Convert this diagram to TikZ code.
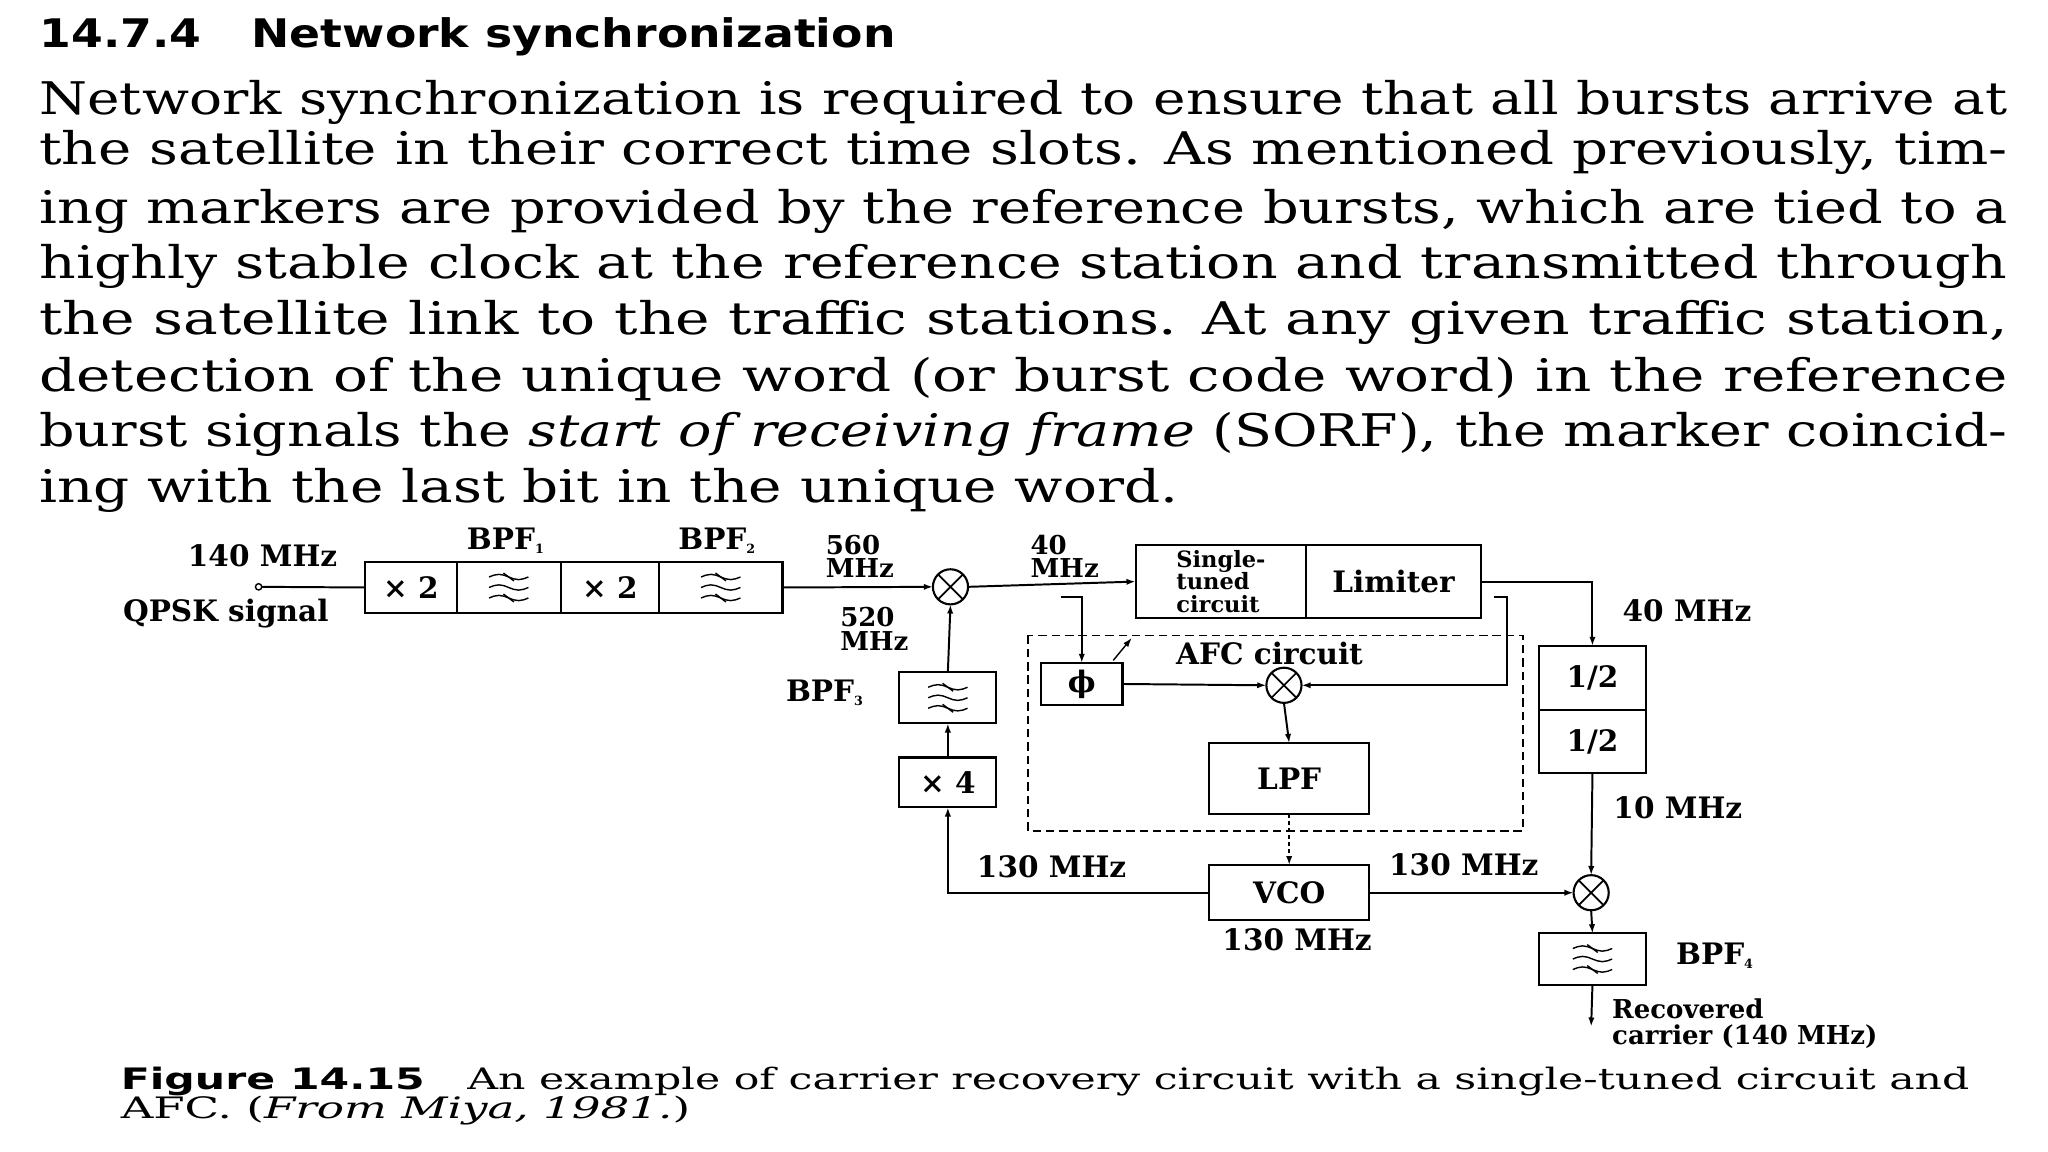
\documentclass[tikz,border=0pt]{standalone}
\usepackage{fontspec}
\usepackage{graphicx}
\setmainfont{DejaVu Serif}
\newfontfamily\hsans{DejaVu Sans}
\usetikzlibrary{arrows.meta}
\newcommand{\dfont}{\fontsize{42}{44}\selectfont\bfseries}
\newcommand{\jline}[1]{\resizebox{2800pt}{\height}{#1}}
\newcommand{\sub}[1]{\raisebox{-0.25ex}{\fontsize{18}{18}\selectfont #1}}
\begin{document}
\begin{tikzpicture}[x=0.06564cm,y=-0.06564cm,
  every node/.style={inner sep=0pt,outer sep=0pt},
  line/.style={line width=2.8pt},
  arr/.style={line width=2.8pt,-{Latex[length=13pt,width=9pt]}},
  box/.style={draw,line width=3pt,minimum width=#1,anchor=north west,font=\dfont},
  mix/.style={draw,circle,line width=3pt,minimum size=50pt},
  lbl/.style={font=\dfont,align=left},
  two/.style={font=\fontsize{37}{33}\selectfont\bfseries,align=left},
  body/.style={anchor=base west,font=\fontsize{64}{70}\selectfont}]
\useasboundingbox (0,0) rectangle (1560,877.5);
% heading
\node[anchor=base west,font=\hsans\bfseries\fontsize{56}{58}\selectfont] (h) at (30,36) {\resizebox{1218pt}{\height}{14.7.4\hspace{1.1em}Network synchronization}};
% body
\node[body] (b1) at (30,87) {\jline{Network synchronization is required to ensure that all bursts arrive at}};
\node[body] (b2) at (30,125) {\jline{the satellite in their correct time slots. As mentioned previously, tim-}};
\node[body] (b3) at (30,170) {\jline{ing markers are provided by the reference bursts, which are tied to a}};
\node[body] (b4) at (30,212) {\jline{highly stable clock at the reference station and transmitted through}};
\node[body] (b5) at (30,255) {\jline{the satellite link to the traffic stations. At any given traffic station,}};
\node[body] (b6) at (30,298) {\jline{detection of the unique word (or burst code word) in the reference}};
\node[body] (b7) at (30,340) {\jline{burst signals the \textit{start of receiving frame} (SORF), the marker coincid-}};
\node[body] (b8) at (30,383) {\resizebox{1620pt}{\height}{ing with the last bit in the unique word.}};
% ---- diagram
\node[draw,circle,line width=2pt,minimum size=9pt] (in) at (197,447) {};
\node[box=70*0.06564cm,minimum height=39*0.06564cm] (x2a) at (278,428) {× 2};
\node[box=79*0.06564cm,minimum height=39*0.06564cm] (bpf1) at (348,428) {};
\node[box=75*0.06564cm,minimum height=39*0.06564cm] (x2b) at (427,428) {× 2};
\node[box=94*0.06564cm,minimum height=39*0.06564cm] (bpf2) at (502,428) {};
\node[lbl] (l140) at (200,423) {140 MHz};
\node[lbl] (lq) at (172,467) {QPSK signal};
\node[lbl] (lb1) at (385,412) {BPF\sub{1}};
\node[lbl] (lb2) at (546,412) {BPF\sub{2}};
\node[mix] (m1) at (724,447) {};
\node[two] (l560) at (655,424) {560\\MHz};
\node[two] (l520) at (666,479) {520\\MHz};
\node[two] (l40a) at (811,424) {40\\MHz};
\node[box=130*0.06564cm,minimum height=56*0.06564cm,align=left,font=\fontsize{32}{32}\selectfont\bfseries] (st) at (865,415) {Single-\\tuned\\circuit};
\node[box=133*0.06564cm,minimum height=56*0.06564cm] (lim) at (995,415) {Limiter};
\node[box=74*0.06564cm,minimum height=39*0.06564cm] (bpf3) at (685,512) {};
\node[lbl] (lb3) at (628,528) {BPF\sub{3}};
\node[box=74*0.06564cm,minimum height=38*0.06564cm] (x4) at (685,577) {× 4};
\node[box=62*0.06564cm,minimum height=32*0.06564cm] (ph) at (793,505) {ϕ};
\node[mix] (m2) at (978,522) {};
\node[lbl] (afc) at (967,498) {AFC circuit};
\node[box=122*0.06564cm,minimum height=54*0.06564cm] (lpf) at (921,566) {LPF};
\node[box=122*0.06564cm,minimum height=42*0.06564cm] (vco) at (921,659) {VCO};
\node[lbl] (l130a) at (801,660) {130 MHz};
\node[lbl] (l130b) at (1115,659) {130 MHz};
\node[lbl] (l130c) at (988,716) {130 MHz};
\node[box=82*0.06564cm,minimum height=49*0.06564cm] (d1) at (1172,492) {1/2};
\node[box=82*0.06564cm,minimum height=48*0.06564cm] (d2) at (1172,541) {1/2};
\node[lbl] (l40b) at (1285,465) {40 MHz};
\node[lbl] (l10) at (1278,615) {10 MHz};
\node[mix] (m3) at (1212,680) {};
\node[box=82*0.06564cm,minimum height=39*0.06564cm] (bpf4) at (1172,711) {};
\node[lbl] (lb4) at (1306,728) {BPF\sub{4}};
\node[two,anchor=north west,font=\fontsize{37}{36}\selectfont\bfseries] (rec) at (1228,761) {Recovered\\carrier (140 MHz)};
\coordinate (out) at (1212,782);
% mixer crosses
\foreach \m in {m1,m2,m3}{\draw[line width=2.5pt] (\m.45)--(\m.225) (\m.135)--(\m.315);}
% filter symbols
\foreach \f in {bpf1,bpf2,bpf3,bpf4}{
  \begin{scope}[shift={(\f.center)},line width=2pt]
  \foreach \k in {-8,0,8}{\draw (-15,\k) sin (-7.5,\k-2) cos (0,\k) sin (7.5,\k+2) cos (15,\k);}
  \draw (-4,-11)--(4,-5); \draw (-4,5)--(4,11);
  \end{scope}}
% AFC dashed box
\draw[line width=2.5pt,dash pattern=on 12pt off 7pt] (783,484) rectangle (1160,633);
% connectors
\draw[line] (in.east) -- (x2a.west);
\draw[arr] (bpf2.east) -- (m1.west);
\draw[arr] (m1.east) -- (st.west);
\draw[arr] (bpf3.north) -- (m1.south);
\draw[arr] (x4.north) -- (bpf3.south);
\draw[arr] (vco.west) -| (x4.south);
\draw[arr] (lim.east) -| (d1.north);
\draw[arr] (808,455) -| (ph.north);
\draw[arr] (1138,455) -| (1148,522) -- (m2.east);
\draw[arr] (ph.east) -- (m2.west);
\draw[arr] (m2.south) -- (lpf.north);
\draw[arr,dash pattern=on 6pt off 4pt] (lpf.south) -- (vco.north);
\draw[arr] (d2.south) -- (m3.north);
\draw[arr] (vco.east) -- (m3.west);
\draw[arr] (m3.south) -- (bpf4.north);
\draw[arr] (bpf4.south) -- (out);
\draw[arr,line width=2pt] (848,503) -- (862,486);
% caption
\node[anchor=base west,font=\fontsize{42}{46}\selectfont] (cap) at (92,830) {\resizebox{2630pt}{\height}{{\hsans\bfseries Figure 14.15}\hspace{1em}An example of carrier recovery circuit with a single-tuned circuit and}};
\node[anchor=base west,font=\fontsize{42}{46}\selectfont] (cap2) at (92,852) {\resizebox{810pt}{\height}{AFC. (\textit{From Miya, 1981.})}};
\end{tikzpicture}
\end{document}
